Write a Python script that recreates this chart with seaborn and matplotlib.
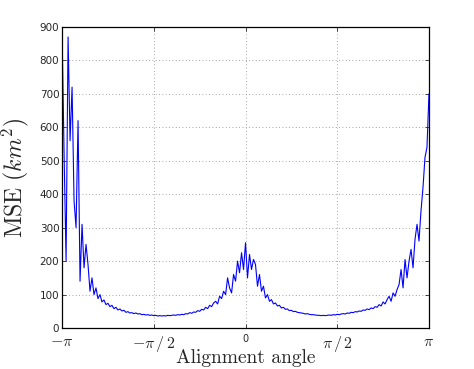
import numpy as np
import pandas as pd
import seaborn as sns
import matplotlib.pyplot as plt

# MSE values, evenly spaced from -pi to pi
mse = [880, 520, 200, 870, 560, 720, 380, 300, 620, 140,
       310, 180, 250, 190, 110, 150, 100, 120, 88, 100,
       78, 84, 70, 74, 64, 68, 58, 62, 54, 57,
       51, 53, 47, 49, 45, 46, 43, 45, 42, 43,
       40, 41, 39, 40, 38, 39, 37, 38, 36, 37,
       36, 37, 36, 38, 37, 38, 39, 38, 40, 39,
       41, 40, 43, 42, 46, 44, 48, 47, 52, 50,
       56, 54, 62, 58, 68, 64, 75, 80, 72, 95,
       88, 110, 100, 150, 120, 105, 160, 140, 200, 165,
       225, 175, 255, 150, 220, 175, 205, 190, 125, 160,
       110, 125, 90, 100, 80, 85, 72, 75, 66, 68,
       60, 62, 56, 57, 52, 53, 49, 50, 47, 46,
       45, 44, 42, 43, 41, 40, 40, 39, 38, 38,
       37, 38, 37, 38, 39, 38, 40, 39, 41, 40,
       42, 43, 42, 45, 44, 47, 46, 49, 48, 51,
       50, 54, 53, 57, 55, 60, 58, 64, 62, 70,
       66, 78, 72, 85, 95, 80, 105, 95, 115, 130,
       175, 120, 205, 150, 200, 235, 180, 265, 310, 260,
       350, 420, 510, 540, 700]
angle = np.linspace(-np.pi, np.pi, len(mse))

tick_pos = [-np.pi, -np.pi / 2, 0, np.pi / 2, np.pi]
tick_labels = [r'$-\pi$', r'$-\pi\,/\,2$', '0', r'$\pi\,/\,2$', r'$\pi$']

df = pd.DataFrame({'angle': angle, 'mse': mse})

sns.set_style("white")
plt.rcParams['mathtext.fontset'] = 'cm'

fig = plt.figure(figsize=(4.74, 3.69), dpi=100)
ax = fig.add_axes([0.131, 0.111, 0.774, 0.816])

sns.lineplot(data=df, x='angle', y='mse', color='#0000ff', linewidth=0.8, ax=ax)

ax.set_xlim(-np.pi, np.pi)
ax.set_ylim(0, 900)
ax.set_yticks(range(0, 901, 100))
ax.set_xticks(tick_pos)
ax.set_xticklabels(tick_labels, fontsize=11.5)
ax.get_xticklabels()[2].set_fontsize(7)
ax.get_xticklabels()[2].set_family('DejaVu Sans')
ax.tick_params(axis='y', labelsize=7.5, pad=2)
ax.tick_params(direction='in', length=3, width=0.6, top=True, right=True, bottom=True, left=True)
ax.tick_params(axis='x', pad=4.5)

ax.grid(True, linestyle=(0, (1, 3)), color='#888888', linewidth=0.6)
for s in ax.spines.values():
    s.set_color('black')
    s.set_linewidth(0.9)

ax.set_xlabel('Alignment angle', fontsize=14, fontfamily='cmr10')
ax.xaxis.set_label_coords(0.5, -0.068)
ax.set_ylabel(r'$\mathrm{MSE}\ (km^2)$', fontsize=17, labelpad=6)

fig.savefig('out.png', dpi=100)
